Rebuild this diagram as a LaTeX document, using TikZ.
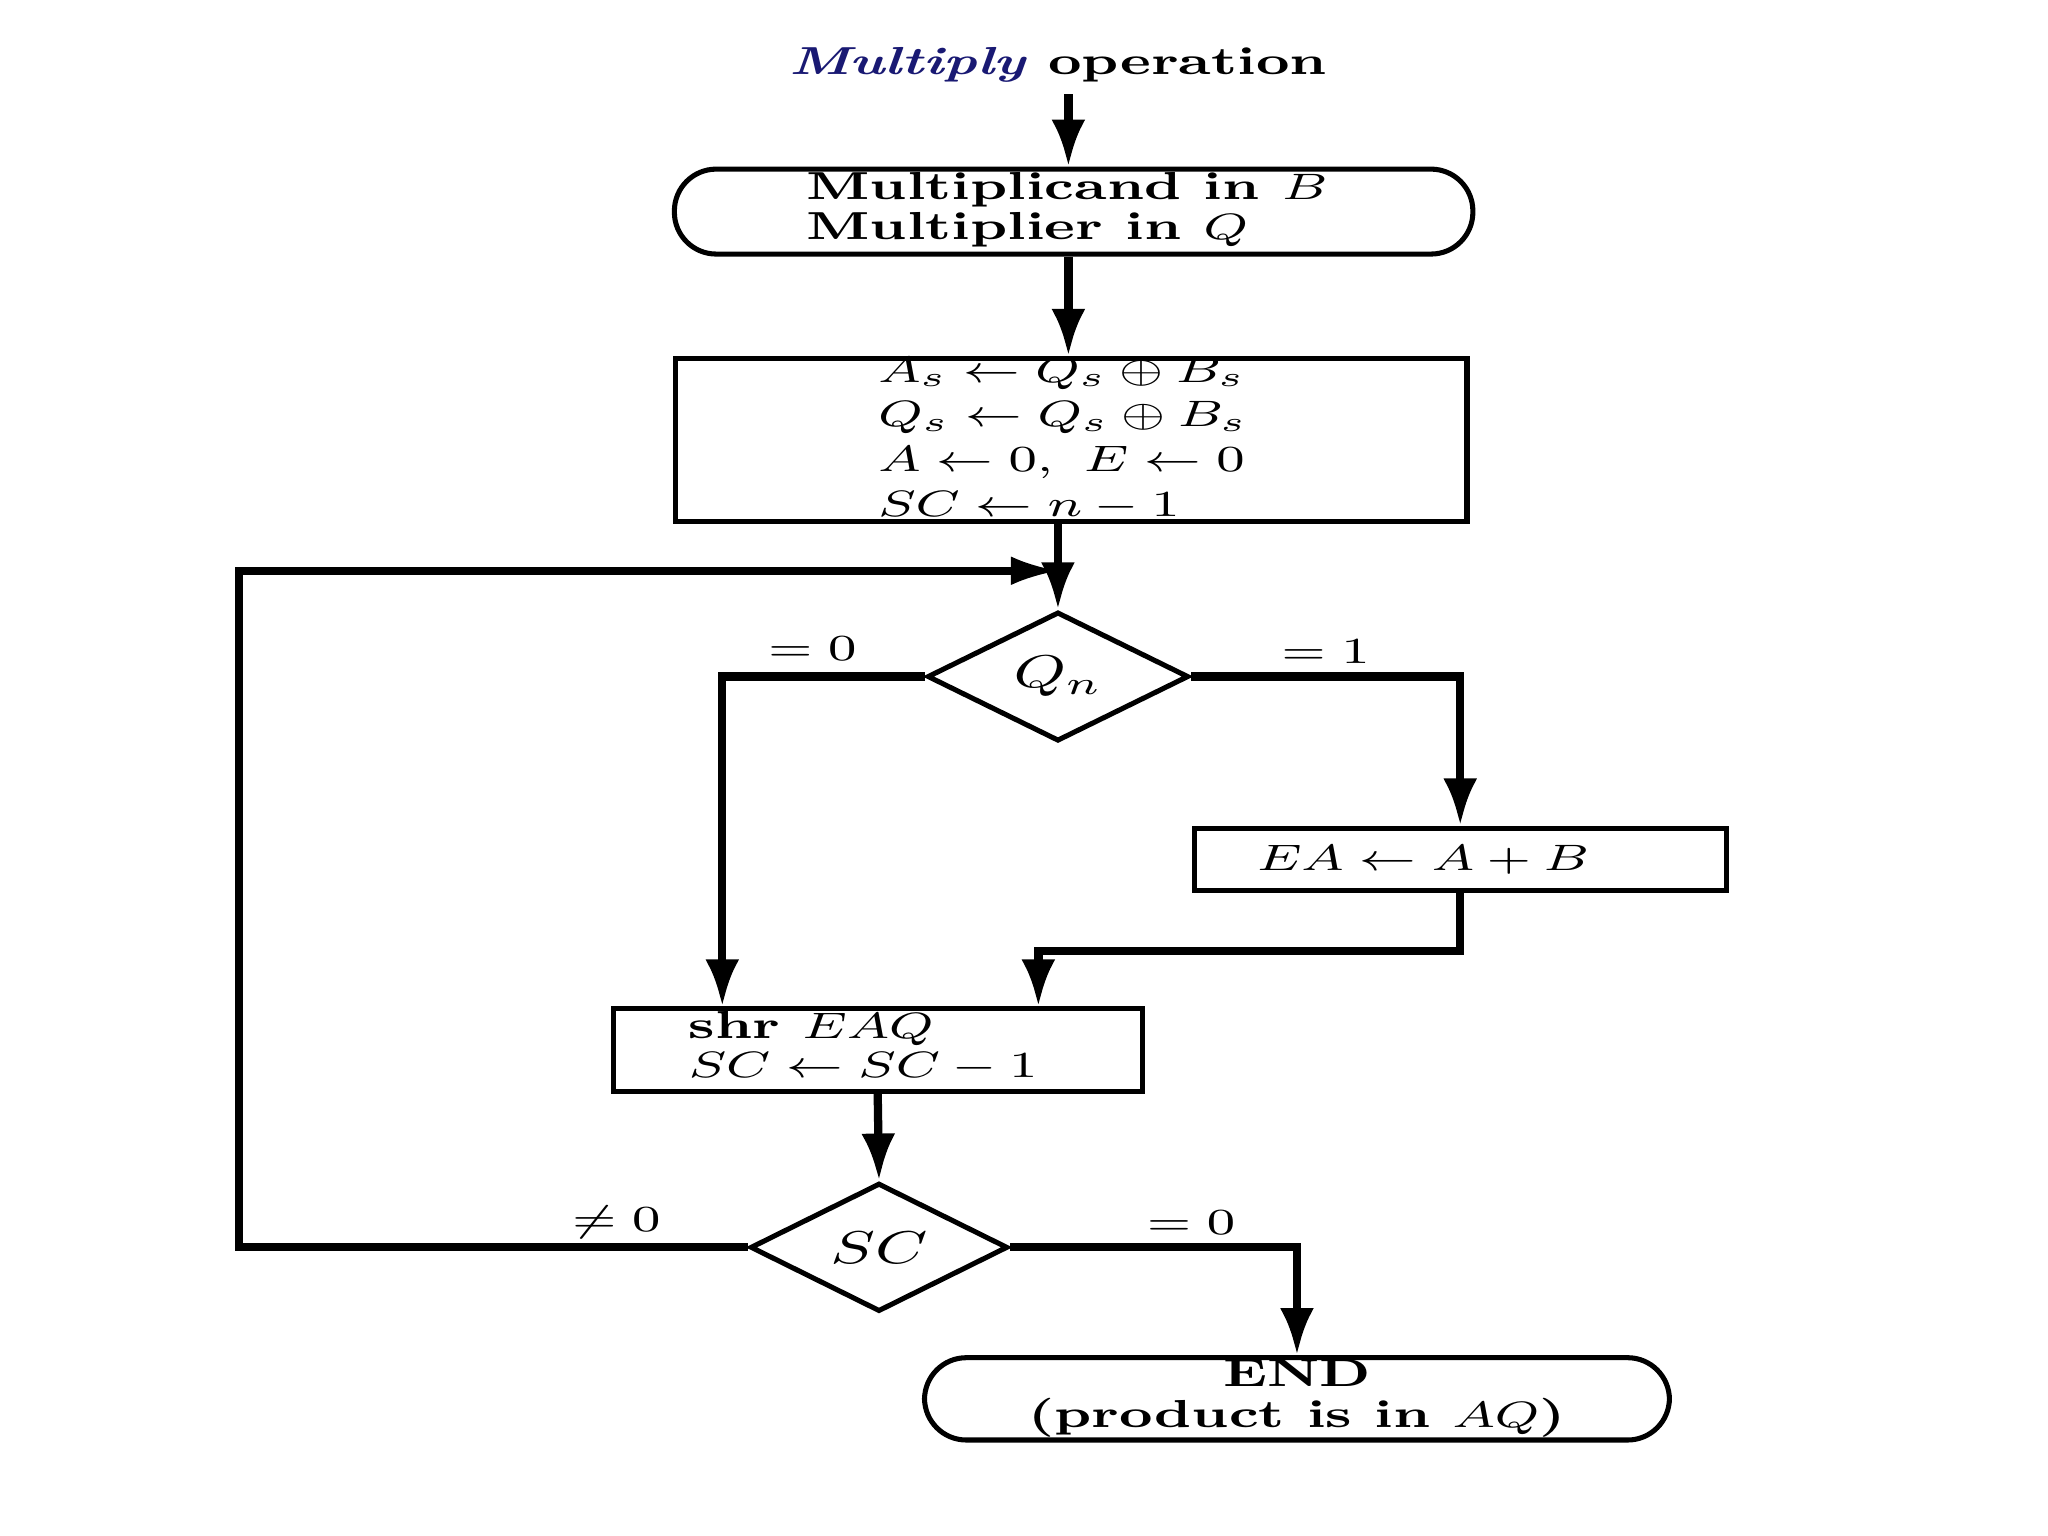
\documentclass[tikz,border=0pt]{standalone}
\usetikzlibrary{shapes.geometric,arrows.meta,calc}
\newcommand{\WT}[1]{\scalebox{1.45}[1]{\bfseries #1}}
\begin{document}
\begin{tikzpicture}[x=0.01cm,y=-0.01cm,
  box/.style={draw,line width=1.1pt,inner sep=0pt},
  term/.style={draw,line width=1.1pt,rounded corners=0.32cm,inner sep=0pt},
  dia/.style={draw,diamond,line width=1.1pt,inner sep=0pt,minimum width=2cm,minimum height=0.8cm},
  conn/.style={line width=1.8pt},
  arr/.style={conn,-{Latex[length=3.6mm,width=2.6mm]}},
  lbl/.style={font=\fontsize{8.5}{9}\selectfont}]
\useasboundingbox (0,0) rectangle (1568,1176);
\fill[white] (0,0) rectangle (1568,1176);
\node[lbl] (title) at (810,50) {\WT{\textcolor[rgb]{0.1,0.1,0.45}{\itshape Multiply} operation}};
\coordinate (t0) at (818,72);
\node[term,minimum width=6.11cm,minimum height=0.65cm] (start) at (822,162) {};
\node[lbl,anchor=west] (starttx) at (605,162) {\WT{\renewcommand{\arraystretch}{0.95}\begin{tabular}{@{}l@{}}Multiplicand in $B$\\ Multiplier in $Q$\end{tabular}}};
\node[box,minimum width=6.06cm,minimum height=1.25cm] (init) at (820,337) {};
\node[lbl,font=\fontsize{8}{9}\selectfont,anchor=west] (inittx) at (660,337) {\WT{\renewcommand{\arraystretch}{1.08}\begin{tabular}{@{}l@{}}$A_s\leftarrow Q_s\oplus B_s$\\$Q_s\leftarrow Q_s\oplus B_s$\\$A\leftarrow 0,\ E\leftarrow 0$\\$SC\leftarrow n-1$\end{tabular}}};
\node[dia] (qn) at (810,518) {\WT{$Q_n$}};
\node[box,minimum width=4.07cm,minimum height=0.48cm] (add) at (1118,658) {};
\node[lbl,anchor=west] (addtx) at (950,658) {\WT{$EA\leftarrow A+B$}};
\node[box,minimum width=4.05cm,minimum height=0.63cm] (shr) at (672,804) {};
\node[lbl,anchor=west] (shrtx) at (515,804) {\WT{\renewcommand{\arraystretch}{0.95}\begin{tabular}{@{}l@{}}shr $EAQ$\\$SC\leftarrow SC-1$\end{tabular}}};
\node[dia,minimum width=1.97cm] (sc) at (673,955) {\WT{$SC$}};
\node[term,minimum width=5.7cm,minimum height=0.63cm] (end) at (993,1071) {};
\node[lbl] (endtx) at (993,1071) {\WT{\renewcommand{\arraystretch}{0.95}\begin{tabular}{@{}c@{}}END\\(product is in $AQ$)\end{tabular}}};
\node[lbl] (l1) at (622,497) {\WT{$=0$}};
\node[lbl] (l2) at (1015,499) {\WT{$=1$}};
\node[lbl] (l3) at (472,936) {\WT{$\neq 0$}};
\node[lbl] (l4) at (912,936) {\WT{$=0$}};
\coordinate (merge) at (810,437);
\draw[arr] (t0) -- (start.north -| t0);
\draw[arr] (start.south -| t0) -- (init.north -| t0);
\draw[arr] (init.south -| qn) -- (qn.north);
\draw[arr] (qn.west) -| (shr.north -| 553,0);
\draw[arr] (qn.east) -| (add.north);
\draw[arr] (add.south) |- (795,728) -- (shr.north -| 795,0);
\draw[arr] (shr.south) -- (sc.north);
\draw[arr] (sc.east) -| (end.north);
\draw[conn] (sc.west) -| (183,437) -- ($(merge)+(-25,0)$);
\draw[line width=1.2pt,-{Latex[length=3.6mm,width=2.2mm]}] (183,437) -- (merge);
\end{tikzpicture}
\end{document}
